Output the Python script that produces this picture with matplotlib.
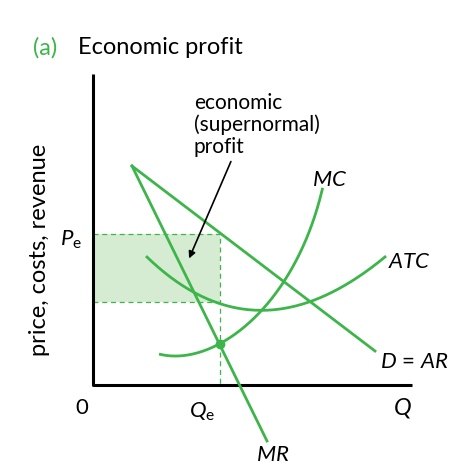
import matplotlib
matplotlib.use("Agg")
import matplotlib.pyplot as plt
import numpy as np

plt.rcParams['font.family'] = ['Lato', 'DejaVu Sans']
plt.rcParams['mathtext.fontset'] = 'custom'
plt.rcParams['mathtext.it'] = 'Lato:italic'
plt.rcParams['mathtext.rm'] = 'Lato'
G = '#3db54a'

# curves in a pixel-like space (x right, y down)
D_x = [132, 375]; D_y = [167, 352]
MR_x = [132, 267]; MR_y = [167, 442]
MC_x = [160, 190, 220, 250, 280, 305, 322]
MC_y = [357, 352, 345, 325, 290, 240, 192]
ATC_x = [147, 180, 215, 265, 310, 350, 385]
ATC_y = [258, 285, 303, 311, 303, 283, 258]
Pe, Qe, ATCq = 235, 220, 303

fig = plt.figure(figsize=(4.74, 4.77), dpi=100)
ax = fig.add_axes([0, 0, 1, 1])
ax.set_xlim(0, 474); ax.set_ylim(477, 0); ax.axis('off')

ax.fill_between([93, Qe], [Pe, Pe], [ATCq, ATCq], color='#d6ecd2', lw=0)
ax.plot([93, Qe, Qe], [Pe, Pe, 385], ls='--', color=G, lw=0.9, dashes=(4, 3))
ax.plot([93, Qe], [ATCq, ATCq], ls='--', color=G, lw=0.9, dashes=(4, 3))
ax.plot([93, 93, 412], [75, 386, 386], color='black', lw=2.2, solid_capstyle='butt')

for xs, ys in [(D_x, D_y), (MR_x, MR_y)]:
    ax.plot(xs, ys, color=G, lw=2)
t = np.linspace(ATC_x[0], ATC_x[-1], 200)
ax.plot(t, np.polyval(np.polyfit(ATC_x, ATC_y, 3), t), color=G, lw=2)
mt = np.linspace(0, 1, len(MC_x))
tt = np.linspace(0, 1, 200)
ax.plot(np.polyval(np.polyfit(mt, MC_x, 3), tt), np.polyval(np.polyfit(mt, MC_y, 3), tt), color=G, lw=2)
ax.plot([Qe], [345], 'o', color=G, ms=6)

ax.annotate('', xy=(188, 262), xytext=(232, 160),
            arrowprops=dict(arrowstyle='-|>', color='black', lw=1.2))

ax.text(33, 48, '(a)', color=G, fontsize=17, va='center')
ax.text(78, 48, 'Economic profit', color='black', fontsize=17, va='center')
ax.text(194, 125, 'economic\n(supernormal)\nprofit', fontsize=15, va='center', linespacing=1.1)
ax.text(40, 250, 'price, costs, revenue', fontsize=17, rotation=90, ha='center', va='center')
ax.text(60, 240, '$P_\\mathrm{e}$', fontsize=16, va='center')
ax.text(202, 412, '$Q_\\mathrm{e}$', fontsize=16, ha='center', va='center')
ax.text(82, 408, '0', fontsize=16, ha='center', va='center')
ax.text(402, 408, '$Q$', fontsize=17, ha='center', va='center')
ax.text(312, 180, '$MC$', fontsize=16, va='center')
ax.text(388, 262, '$ATC$', fontsize=16, va='center')
ax.text(380, 362, '$D$ = $AR$', fontsize=16, va='center')
ax.text(256, 455, '$MR$', fontsize=16, va='center')
fig.savefig('out.png', dpi=100)
